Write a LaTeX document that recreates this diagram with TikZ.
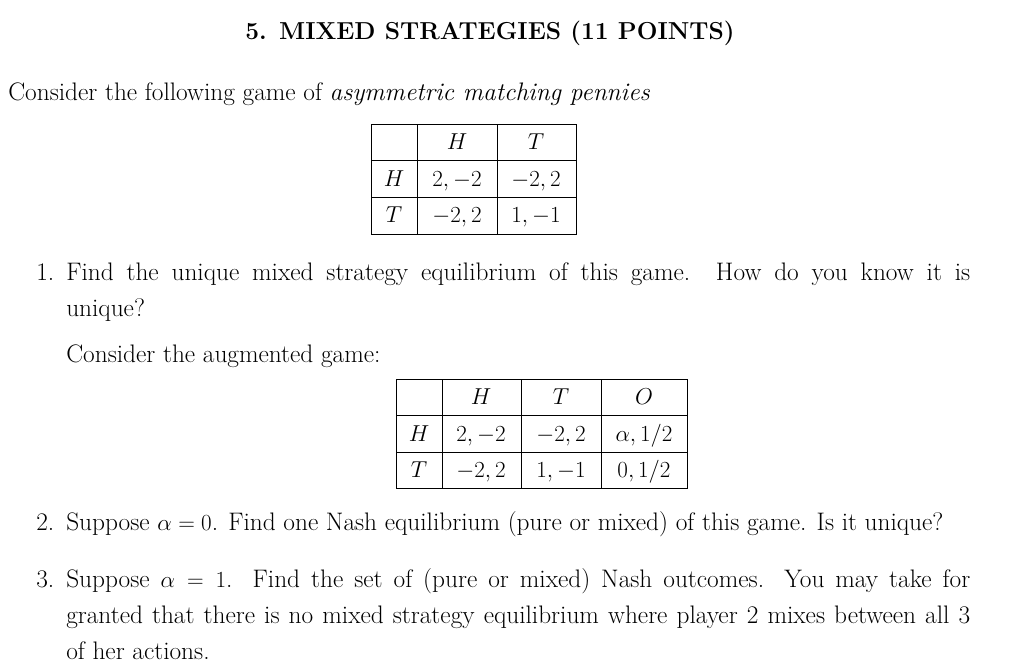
\documentclass[tikz,border=0pt]{standalone}
\begin{document}
\begin{tikzpicture}[x=0.75pt,y=-0.75pt,
  txt/.style={anchor=base west,inner sep=0pt,font=\fontsize{19}{27}\selectfont},
  cell/.style={anchor=base,inner sep=0pt,font=\fontsize{19}{27}\selectfont},
  par/.style={anchor=base west,inner sep=0pt,font=\fontsize{19}{27}\selectfont,text width=678pt,align=justify}]
\useasboundingbox (0,0) rectangle (1024,667);
\node[anchor=base,inner sep=0pt,font=\fontsize{18.4}{22}\selectfont\bfseries] (title) at (490,40) {5. MIXED STRATEGIES (11 POINTS)};
\node[txt] (intro) at (8,100) {Consider the following game of \emph{asymmetric matching pennies}};
% table 1
\draw (371,124) rectangle (576,234);
\draw (371,160) -- (576,160) (371,197) -- (576,197);
\draw (417,124) -- (417,234) (497,124) -- (497,234);
\node[cell] (a1) at (457,149) {$H$};
\node[cell] (a2) at (536,149) {$T$};
\node[cell] (a3) at (394,186) {$H$};
\node[cell] (a4) at (457,186) {$2,-2$};
\node[cell] (a5) at (536,186) {$-2,2$};
\node[cell] (a6) at (394,222) {$T$};
\node[cell] (a7) at (457,222) {$-2,2$};
\node[cell] (a8) at (536,222) {$1,-1$};
% item 1
\node[txt] (n1) at (36,280) {1.};
\node[par] (p1) at (66,280) {Find the unique mixed strategy equilibrium of this game. How do you know it is\linebreak unique?};
\node[txt] (aug) at (66,362) {Consider the augmented game:};
% table 2
\draw (396,379) rectangle (687,488);
\draw (396,415) -- (687,415) (396,452) -- (687,452);
\draw (442,379) -- (442,488) (521,379) -- (521,488) (601,379) -- (601,488);
\node[cell] (b1) at (481,404) {$H$};
\node[cell] (b2) at (561,404) {$T$};
\node[cell] (b3) at (644,404) {$O$};
\node[cell] (b4) at (419,441) {$H$};
\node[cell] (b5) at (481,441) {$2,-2$};
\node[cell] (b6) at (561,441) {$-2,2$};
\node[cell] (b7) at (644,441) {$\alpha,1/2$};
\node[cell] (b8) at (419,477) {$T$};
\node[cell] (b9) at (481,477) {$-2,2$};
\node[cell] (b10) at (561,477) {$1,-1$};
\node[cell] (b11) at (644,477) {$0,1/2$};
% item 2
\node[txt] (n2) at (36,530) {2.};
\node[txt] (p2) at (66,530) {Suppose $\alpha=0$. Find one Nash equilibrium (pure or mixed) of this game. Is it unique?};
% item 3
\node[txt] (n3) at (36,587) {3.};
\node[par] (p3) at (66,587) {Suppose $\alpha=1$. Find the set of (pure or mixed) Nash outcomes. You may take for\linebreak granted that there is no mixed strategy equilibrium where player 2 mixes between all 3\linebreak of her actions.};
\end{tikzpicture}
\end{document}
